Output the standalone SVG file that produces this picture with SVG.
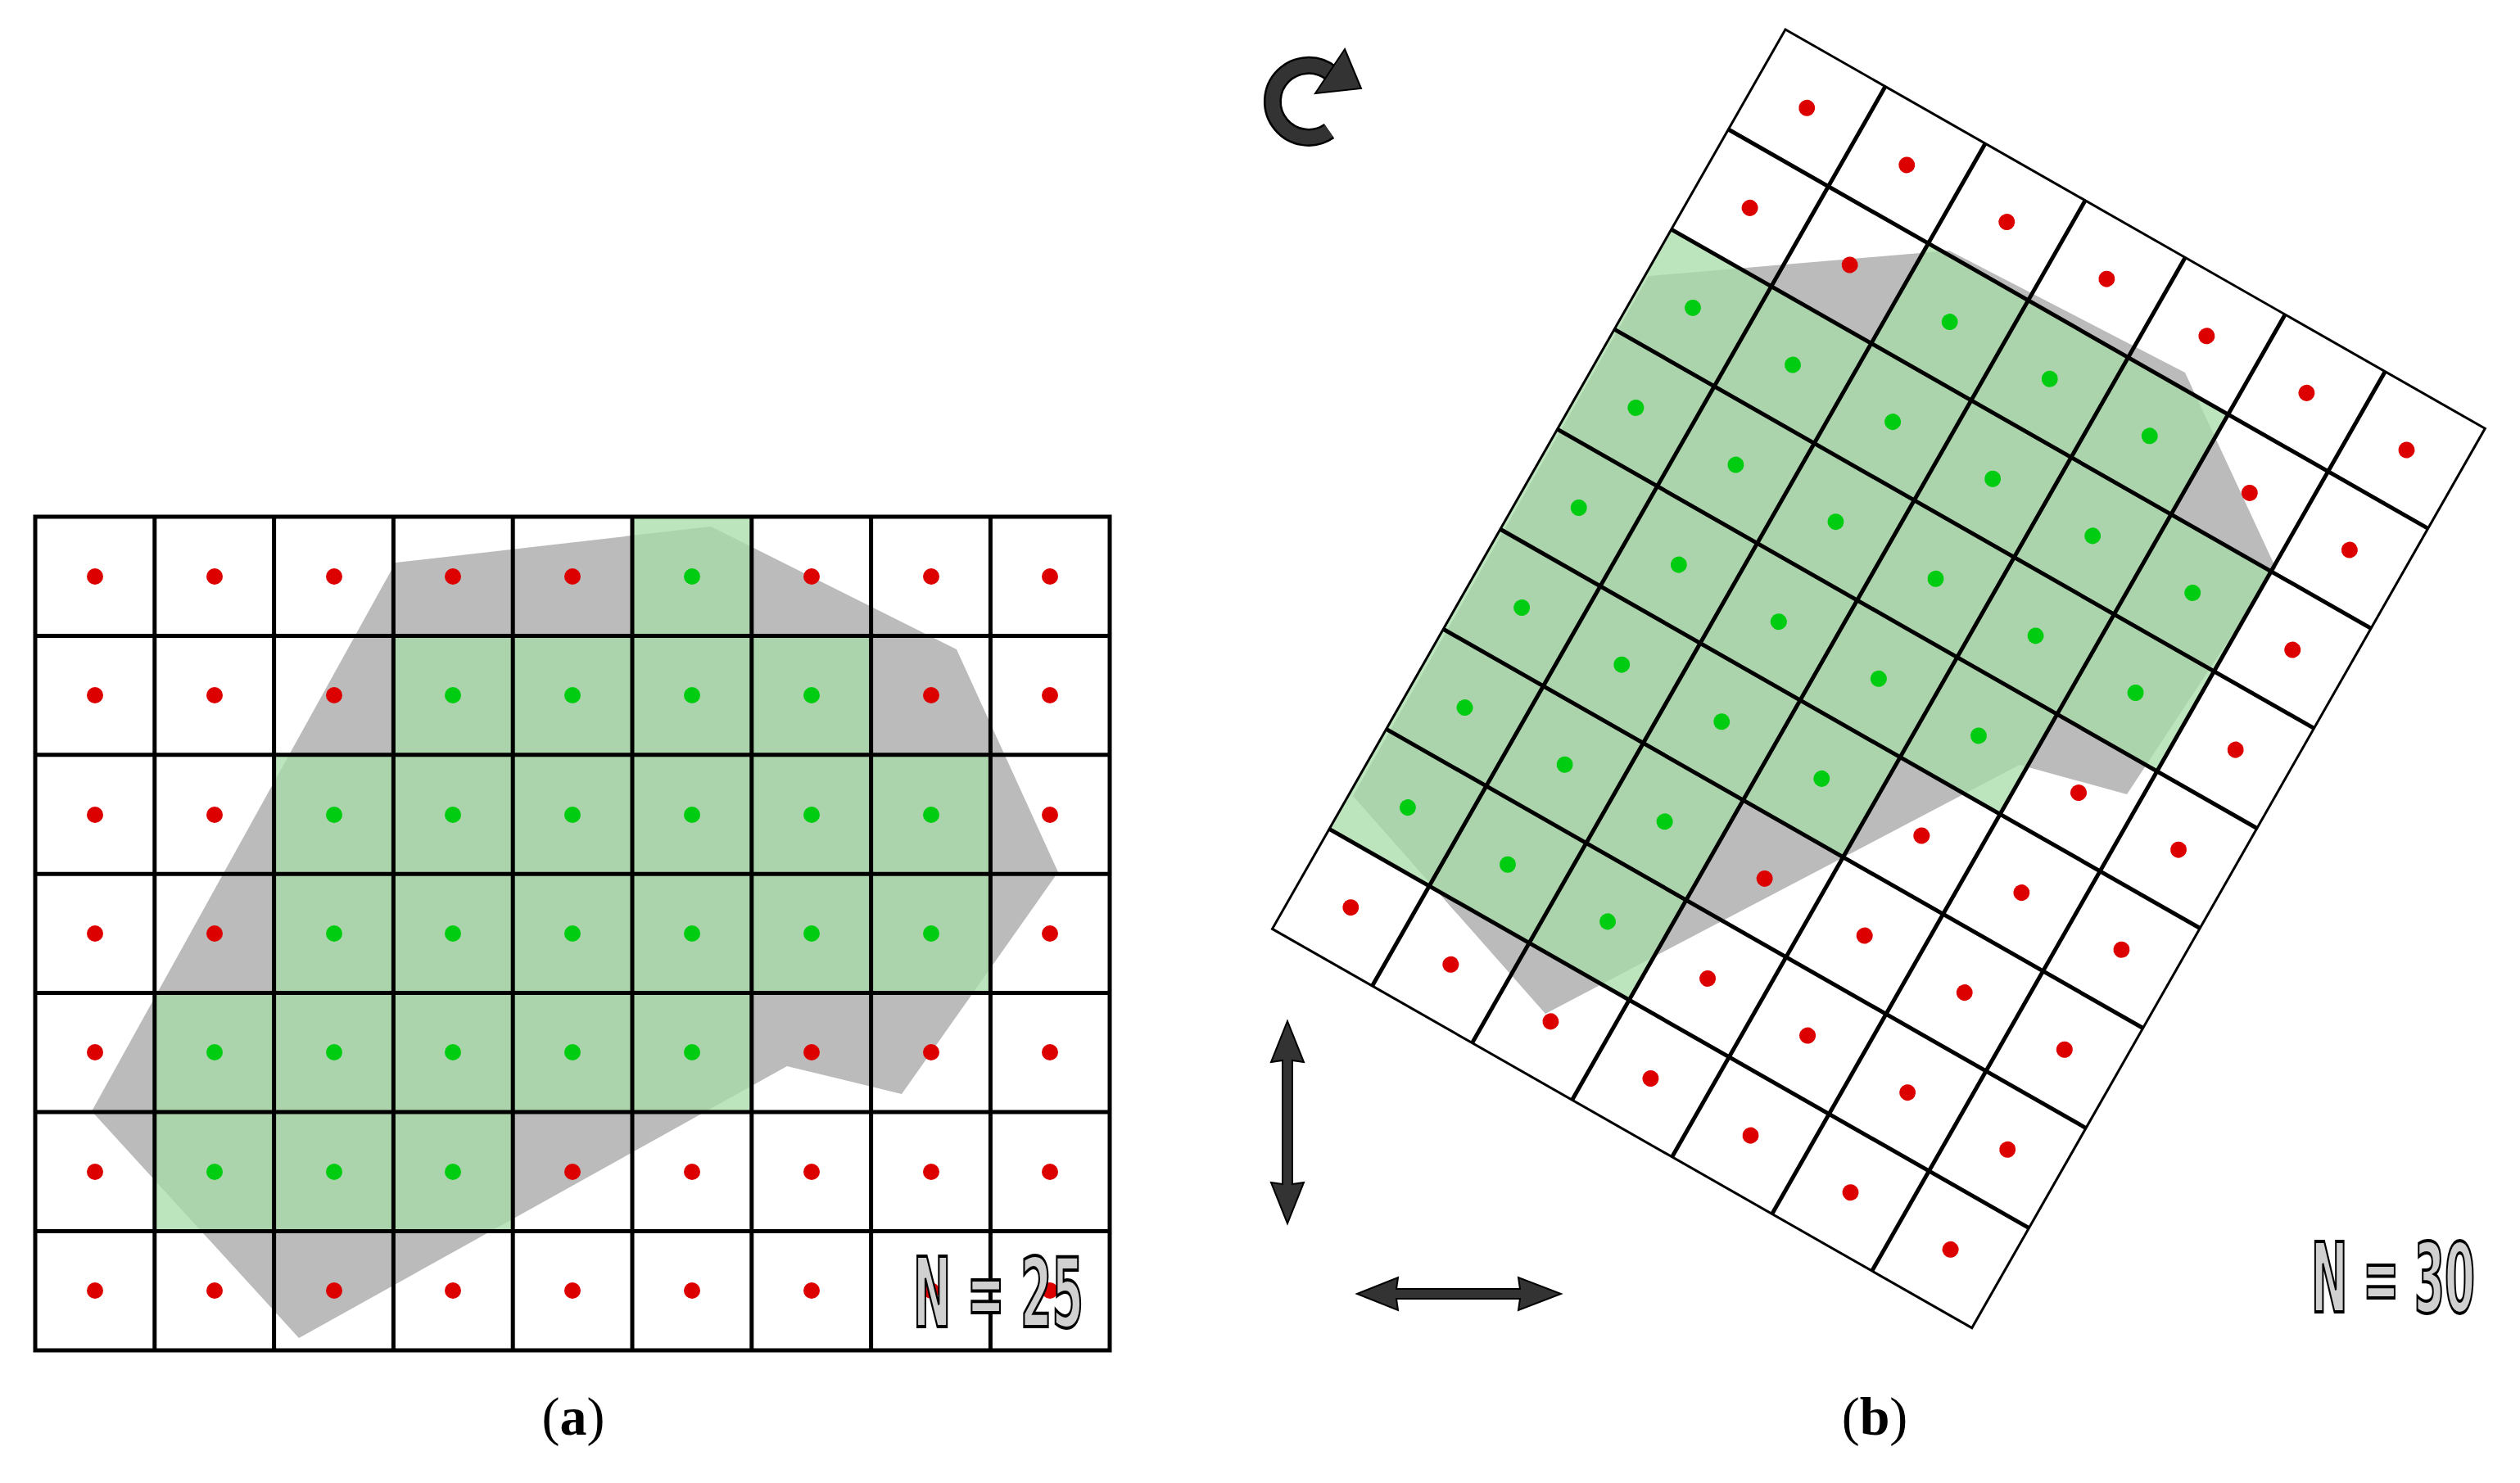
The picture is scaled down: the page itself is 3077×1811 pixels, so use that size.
<svg xmlns="http://www.w3.org/2000/svg" xmlns:xlink="http://www.w3.org/1999/xlink" width="3077" height="1811" viewBox="0 0 3077 1811">
<style>
.gray{fill:#bbbbbb}
.grn{fill:rgb(167,220,167);fill-opacity:0.75}
.grid{fill:none;stroke:#000;stroke-width:5}
.nlab{font-family:"DejaVu Sans Condensed","DejaVu Sans",sans-serif;font-weight:bold;font-size:118px;stroke:#000;stroke-width:4;fill:#d0d0d0}
.cap{font-family:"Liberation Serif",serif;font-size:66px;fill:#000}
.ico{fill:#333;stroke:#000;stroke-width:2}
</style>
<defs>
<circle id="r" r="10" fill="#dd0000"/>
<circle id="g" r="10" fill="#00cc11"/>
</defs>
<rect width="3077" height="1811" fill="#fff"/>
<g id="panel-a">
<polygon class="gray" points="483,687 868,643 1168,793 1292,1065 1101,1336 961,1302 365,1634 112,1357"/>
<rect class="grn" x="772" y="631" width="145.8" height="145.4"/>
<rect class="grn" x="480.4" y="776.4" width="583.2" height="145.4"/>
<rect class="grn" x="334.6" y="921.8" width="874.8" height="290.8"/>
<rect class="grn" x="188.8" y="1212.6" width="729" height="145.4"/>
<rect class="grn" x="188.8" y="1358" width="437.4" height="145.4"/>
<g class="grid">
<rect x="43" y="631" width="1312" height="1018"/>
<path d="M188.8,631V1649M334.6,631V1649M480.4,631V1649M626.2,631V1649M772,631V1649M917.8,631V1649M1063.6,631V1649M1209.4,631V1649M43,776.4H1355M43,921.8H1355M43,1067.2H1355M43,1212.6H1355M43,1358H1355M43,1503.4H1355"/>
</g>
<g>
<use href="#r" x="116" y="704"/><use href="#r" x="262" y="704"/><use href="#r" x="408" y="704"/><use href="#r" x="553" y="704"/><use href="#r" x="699" y="704"/><use href="#g" x="845" y="704"/><use href="#r" x="991" y="704"/><use href="#r" x="1137" y="704"/><use href="#r" x="1282" y="704"/>
<use href="#r" x="116" y="849"/><use href="#r" x="262" y="849"/><use href="#r" x="408" y="849"/><use href="#g" x="553" y="849"/><use href="#g" x="699" y="849"/><use href="#g" x="845" y="849"/><use href="#g" x="991" y="849"/><use href="#r" x="1137" y="849"/><use href="#r" x="1282" y="849"/>
<use href="#r" x="116" y="995"/><use href="#r" x="262" y="995"/><use href="#g" x="408" y="995"/><use href="#g" x="553" y="995"/><use href="#g" x="699" y="995"/><use href="#g" x="845" y="995"/><use href="#g" x="991" y="995"/><use href="#g" x="1137" y="995"/><use href="#r" x="1282" y="995"/>
<use href="#r" x="116" y="1140"/><use href="#r" x="262" y="1140"/><use href="#g" x="408" y="1140"/><use href="#g" x="553" y="1140"/><use href="#g" x="699" y="1140"/><use href="#g" x="845" y="1140"/><use href="#g" x="991" y="1140"/><use href="#g" x="1137" y="1140"/><use href="#r" x="1282" y="1140"/>
<use href="#r" x="116" y="1285"/><use href="#g" x="262" y="1285"/><use href="#g" x="408" y="1285"/><use href="#g" x="553" y="1285"/><use href="#g" x="699" y="1285"/><use href="#g" x="845" y="1285"/><use href="#r" x="991" y="1285"/><use href="#r" x="1137" y="1285"/><use href="#r" x="1282" y="1285"/>
<use href="#r" x="116" y="1431"/><use href="#g" x="262" y="1431"/><use href="#g" x="408" y="1431"/><use href="#g" x="553" y="1431"/><use href="#r" x="699" y="1431"/><use href="#r" x="845" y="1431"/><use href="#r" x="991" y="1431"/><use href="#r" x="1137" y="1431"/><use href="#r" x="1282" y="1431"/>
<use href="#r" x="116" y="1576"/><use href="#r" x="262" y="1576"/><use href="#r" x="408" y="1576"/><use href="#r" x="553" y="1576"/><use href="#r" x="699" y="1576"/><use href="#r" x="845" y="1576"/><use href="#r" x="991" y="1576"/><use href="#r" x="1137" y="1576"/><use href="#r" x="1282" y="1576"/>
</g>
<text class="nlab" x="1115" y="1620" textLength="208" lengthAdjust="spacingAndGlyphs">N = 25</text>
<text class="cap" x="700" y="1752" text-anchor="middle">(<tspan font-weight="bold">a</tspan>)</text>
</g>
<g id="panel-b">
<polygon class="gray" points="2013,337 2380,306 2668,455 2779,694 2597,970 2466,934 1887,1238 1652,972"/>
<g transform="translate(2180,36) rotate(29.7)">
<rect class="grn" x="281" y="140.5" width="421.5" height="140.5"/>
<rect class="grn" x="0" y="281" width="843" height="281"/>
<rect class="grn" x="0" y="562" width="702.5" height="140.5"/>
<rect class="grn" x="0" y="702.5" width="562" height="140.5"/>
<rect class="grn" x="0" y="843" width="421.5" height="281"/>
<g class="grid">
<rect x="0" y="0" width="983.5" height="1264.5" stroke-width="3"/>
<path d="M140.5,0V1264.5M281,0V1264.5M421.5,0V1264.5M562,0V1264.5M702.5,0V1264.5M843,0V1264.5M0,140.5H983.5M0,281H983.5M0,421.5H983.5M0,562H983.5M0,702.5H983.5M0,843H983.5M0,983.5H983.5M0,1124H983.5"/>
</g>
<g>
<use href="#r" x="70.25" y="70.25"/><use href="#r" x="210.75" y="70.25"/><use href="#r" x="351.25" y="70.25"/><use href="#r" x="491.75" y="70.25"/><use href="#r" x="632.25" y="70.25"/><use href="#r" x="772.75" y="70.25"/><use href="#r" x="913.25" y="70.25"/>
<use href="#r" x="70.25" y="210.75"/><use href="#r" x="210.75" y="210.75"/><use href="#g" x="351.25" y="210.75"/><use href="#g" x="491.75" y="210.75"/><use href="#g" x="632.25" y="210.75"/><use href="#r" x="772.75" y="210.75"/><use href="#r" x="913.25" y="210.75"/>
<use href="#g" x="70.25" y="351.25"/><use href="#g" x="210.75" y="351.25"/><use href="#g" x="351.25" y="351.25"/><use href="#g" x="491.75" y="351.25"/><use href="#g" x="632.25" y="351.25"/><use href="#g" x="772.75" y="351.25"/><use href="#r" x="913.25" y="351.25"/>
<use href="#g" x="70.25" y="491.75"/><use href="#g" x="210.75" y="491.75"/><use href="#g" x="351.25" y="491.75"/><use href="#g" x="491.75" y="491.75"/><use href="#g" x="632.25" y="491.75"/><use href="#g" x="772.75" y="491.75"/><use href="#r" x="913.25" y="491.75"/>
<use href="#g" x="70.25" y="632.25"/><use href="#g" x="210.75" y="632.25"/><use href="#g" x="351.25" y="632.25"/><use href="#g" x="491.75" y="632.25"/><use href="#g" x="632.25" y="632.25"/><use href="#r" x="772.75" y="632.25"/><use href="#r" x="913.25" y="632.25"/>
<use href="#g" x="70.25" y="772.75"/><use href="#g" x="210.75" y="772.75"/><use href="#g" x="351.25" y="772.75"/><use href="#g" x="491.75" y="772.75"/><use href="#r" x="632.25" y="772.75"/><use href="#r" x="772.75" y="772.75"/><use href="#r" x="913.25" y="772.75"/>
<use href="#g" x="70.25" y="913.25"/><use href="#g" x="210.75" y="913.25"/><use href="#g" x="351.25" y="913.25"/><use href="#r" x="491.75" y="913.25"/><use href="#r" x="632.25" y="913.25"/><use href="#r" x="772.75" y="913.25"/><use href="#r" x="913.25" y="913.25"/>
<use href="#g" x="70.25" y="1053.75"/><use href="#g" x="210.75" y="1053.75"/><use href="#g" x="351.25" y="1053.75"/><use href="#r" x="491.75" y="1053.75"/><use href="#r" x="632.25" y="1053.75"/><use href="#r" x="772.75" y="1053.75"/><use href="#r" x="913.25" y="1053.75"/>
<use href="#r" x="70.25" y="1194.25"/><use href="#r" x="210.75" y="1194.25"/><use href="#r" x="351.25" y="1194.25"/><use href="#r" x="491.75" y="1194.25"/><use href="#r" x="632.25" y="1194.25"/><use href="#r" x="772.75" y="1194.25"/><use href="#r" x="913.25" y="1194.25"/>
</g>
</g>
<g id="rotate-icon">
<path d="M1626,90 A44,44 0 1 0 1623,160" fill="none" stroke="#000" stroke-width="22"/>
<path d="M1626,90 A44,44 0 1 0 1623,160" fill="none" stroke="#333" stroke-width="17"/>
<polygon class="ico" points="1642,60 1662,108 1606,114"/>
</g>
<g id="arrow-vertical">
<polygon class="ico" points="1572,1247 1592,1297 1578,1295 1578,1446 1592,1444 1572,1494 1552,1444 1566,1446 1566,1295 1552,1297"/>
</g>
<g id="arrow-horizontal">
<polygon class="ico" points="1657,1580 1707,1560 1705,1574 1856,1574 1854,1560 1906,1580 1854,1600 1856,1586 1705,1586 1707,1600"/>
</g>
<text class="nlab" x="2822" y="1602" textLength="200" lengthAdjust="spacingAndGlyphs">N = 30</text>
<text class="cap" x="2289" y="1752" text-anchor="middle">(<tspan font-weight="bold">b</tspan>)</text>
</g>
</svg>
